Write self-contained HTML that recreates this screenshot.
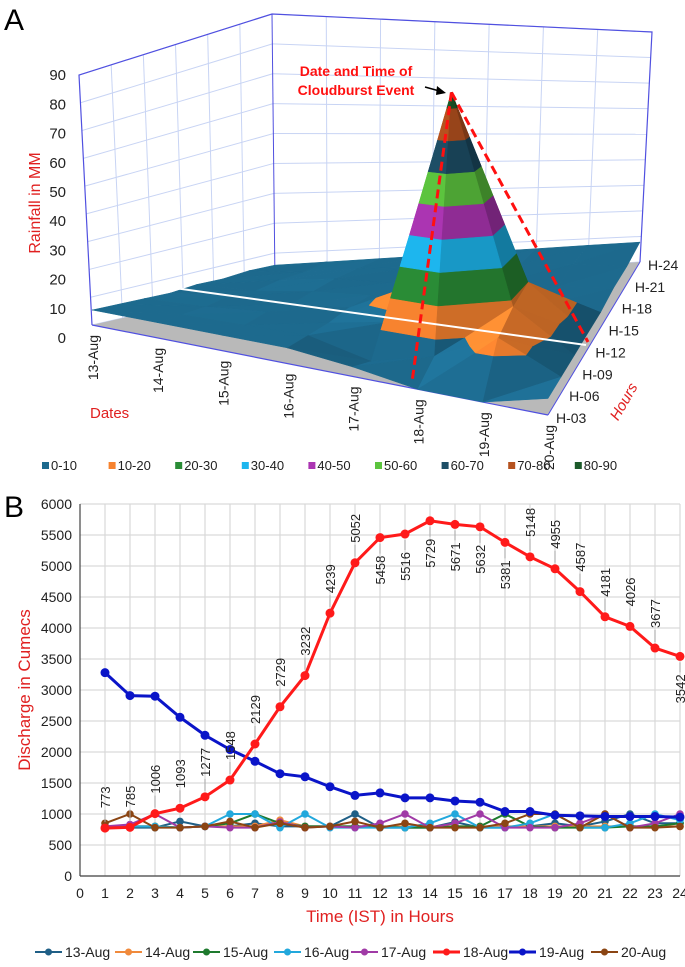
<!DOCTYPE html>
<html><head><meta charset="utf-8">
<style>
html,body{margin:0;padding:0;background:#fff;}
svg{display:block;font-family:"Liberation Sans",Arial,sans-serif;}
</style></head>
<body>
<svg id="svg" width="685" height="967" viewBox="0 0 685 967" xmlns="http://www.w3.org/2000/svg">
  <text x="4" y="30" font-size="30" fill="#000">A</text>
  <text x="4" y="517" font-size="30" fill="#000">B</text>
  <g id="chartA"></g>
  <g id="chartB"></g>
</svg>
<script>
const NS="http://www.w3.org/2000/svg";
function mk(parent,tag,attrs,text){const e=document.createElementNS(NS,tag);for(const k in attrs)e.setAttribute(k,attrs[k]);if(text!==undefined)e.textContent=text;parent.appendChild(e);return e;}

/* ================= PANEL A DATA ================= */
const dateCats=["13-Aug","14-Aug","15-Aug","16-Aug","17-Aug","18-Aug","19-Aug","20-Aug"];
const hourCats=["H-03","H-06","H-09","H-12","H-15","H-18","H-21","H-24"];
const rainRow0=[5,5,5,5,3,0,0,5];
const rainRow1=[5,5,5,5,0,5,14,5];
const rainRow2=[5,5,6,5,8,85,18,5];
const rainRow3=[5,6,5,6,15,22,20,5];
const rainRow4=[6,5,6,6,6,6,6,5];
const rainRow5=[6,6,7,6,6,7,6,6];
const rainRow6=[7,6,7,7,6,7,7,6];
const rainRow7=[7,7,7,7,7,7,7,7];
const rainTicks=[0,10,20,30,40,50,60,70,80,90];
const bandLabels=["0-10","10-20","20-30","30-40","40-50","50-60","60-70","70-80","80-90"];
const bandColors=["#1d6a8e","#f7832f","#2a8c36","#1db6ee","#ab35b2","#5cc43e","#1d4e66","#b5521f","#1c5a2a"];

/* ================= PANEL A DRAW ================= */
(function(){
 const g=document.getElementById("chartA");
 const rows=[rainRow0,rainRow1,rainRow2,rainRow3,rainRow4,rainRow5,rainRow6,rainRow7];
 const FL=[92,325],FR=[548,415],BL=[275,283],BR=[640,262];
 const nI=dateCats.length-1,nJ=hourCats.length-1;
 function proj(i,j,z){const u=i/nI,t=j/nJ;
   const fx=FL[0]+(FR[0]-FL[0])*u,fy=FL[1]+(FR[1]-FL[1])*u;
   const bx=BL[0]+(BR[0]-BL[0])*u,by=BL[1]+(BR[1]-BL[1])*u;
   const s=3.0+0.3*u-0.45*t;
   return [fx+(bx-fx)*t,fy+(by-fy)*t-z*s];}
 const wallBorder="#5050e0";
 mk(g,"polygon",{points:"79,75 272,14 275,283 92,325",fill:"#fff",stroke:"none",});
 mk(g,"polygon",{points:"272,14 652,32 640,262 275,283",fill:"#fff",stroke:"none",});
 const wg=mk(g,"g",{stroke:"#c8d4f4","stroke-width":"1",});
 rainTicks.forEach((v,k)=>{const f=v/90;
   const ly=325+(75-325)*f, lx=92+(79-92)*f, ry=283+(14-283)*f, rx=275+(272-275)*f;
   mk(wg,"line",{x1:lx,y1:ly,x2:rx,y2:ry});
   const by2=262+(32-262)*f, bx2=640+(652-640)*f;
   mk(wg,"line",{x1:rx,y1:ry,x2:bx2,y2:by2});});
 for(let k=1;k<6;k++){const f=k/6;mk(wg,"line",{x1:92+(275-92)*f,y1:325+(283-325)*f,x2:79+(272-79)*f,y2:75+(14-75)*f});}
 for(let k=1;k<7;k++){const f=k/7;mk(wg,"line",{x1:275+(640-275)*f,y1:283+(262-283)*f,x2:272+(652-272)*f,y2:14+(32-14)*f});}
 mk(g,"polyline",{points:"92,325 79,75 272,14 652,32 640,262",fill:"none",stroke:wallBorder,"stroke-width":"1.2",});
 mk(g,"line",{x1:272,y1:14,x2:275,y2:283,stroke:wallBorder,"stroke-width":"1",});
 mk(g,"polygon",{points:"92,325 548,415 640,262 275,283",fill:"#b9b9b9",stroke:"none",});
 mk(g,"line",{x1:92,y1:325,x2:548,y2:415,stroke:wallBorder,"stroke-width":"1.2",});
 function clip(poly,z0,keepAbove){const out=[];for(let k=0;k<poly.length;k++){const a=poly[k],b=poly[(k+1)%poly.length];
   const ina=keepAbove?a[2]>=z0:a[2]<=z0,inb=keepAbove?b[2]>=z0:b[2]<=z0;
   if(ina)out.push(a);
   if(ina!==inb){const t=(z0-a[2])/(b[2]-a[2]);out.push([a[0]+(b[0]-a[0])*t,a[1]+(b[1]-a[1])*t,z0]);}}
   return out;}
 function shade(hex,f){const n=parseInt(hex.slice(1),16);let r=(n>>16)&255,gg=(n>>8)&255,b=n&255;
   r=Math.min(255,Math.round(r*f));gg=Math.min(255,Math.round(gg*f));b=Math.min(255,Math.round(b*f));return "rgb("+r+","+gg+","+b+")";}
 const tris=[];
 for(let j=0;j<nJ;j++)for(let i=0;i<nI;i++){
   const p00=[i,j,rows[j][i]],p10=[i+1,j,rows[j][i+1]],p01=[i,j+1,rows[j+1][i]],p11=[i+1,j+1,rows[j+1][i+1]];
   tris.push([p00,p10,p11]);tris.push([p00,p11,p01]);}
 tris.forEach(tr=>{const c=proj((tr[0][0]+tr[1][0]+tr[2][0])/3,(tr[0][1]+tr[1][1]+tr[2][1])/3,0);tr.depth=c[1];});
 tris.sort((a,b)=>a.depth-b.depth);
 const sg=mk(g,"g",{});
 tris.forEach(tr=>{
   if(tr.every(p=>p[2]===0))return;
   const a=tr[0],b=tr[1],c=tr[2],sc=0.12;
   const ux=b[0]-a[0],uy=b[1]-a[1],uz=(b[2]-a[2])*sc,vx=c[0]-a[0],vy=c[1]-a[1],vz=(c[2]-a[2])*sc;
   let nx=uy*vz-uz*vy,ny=uz*vx-ux*vz,nz=ux*vy-uy*vx;const L=Math.hypot(nx,ny,nz)||1;nx/=L;ny/=L;nz/=L;if(nz<0){nx=-nx;ny=-ny;nz=-nz;}
   const f=0.82+0.3*(-0.6*nx-0.5*ny+0.6*nz);
   bandColors.forEach((col,k)=>{
     let poly=clip(tr,k*10,true);if(poly.length<3)return;
     if(k<bandColors.length-1){poly=clip(poly,(k+1)*10,false);if(poly.length<3)return;}
     const pts=poly.map(p=>proj(p[0],p[1],p[2]).map(v=>v.toFixed(1)).join(",")).join(" ");
     const el=mk(sg,"polygon",{points:pts,fill:shade(col,f),stroke:shade(col,f),"stroke-width":"0.5"});
     
     
   });
 });
 mk(g,"line",{x1:160,y1:286,x2:586,y2:345,stroke:"#fff","stroke-width":"2",});
 mk(g,"line",{x1:548,y1:415,x2:640,y2:262,stroke:wallBorder,"stroke-width":"1",});
 rainTicks.forEach((v,k)=>{const y=338-k*29.2;
   const t=mk(g,"text",{x:66,y:y+5,"font-size":"15","text-anchor":"end",fill:"#222"},String(v));
   });
 mk(g,"text",{x:0,y:0,"font-size":"16",fill:"#e02020","text-anchor":"middle",transform:"translate(40,203) rotate(-90)",},"Rainfall in MM");
 dateCats.forEach((d,i)=>{const p=proj(i,0,0);
   const t=mk(g,"text",{x:0,y:0,"font-size":"14","text-anchor":"end",fill:"#222",transform:"translate("+(p[0]+6)+","+(p[1]+10)+") rotate(-90)"},d);
   });
 mk(g,"text",{x:90,y:418,"font-size":"15",fill:"#e02020",},"Dates");
 hourCats.forEach((h,j)=>{const p=proj(nI,j,0);
   const t=mk(g,"text",{x:p[0]+8,y:p[1]+8,"font-size":"14",fill:"#222"},h);
   });
 mk(g,"text",{x:0,y:0,"font-size":"15",fill:"#e02020","font-style":"italic","text-anchor":"middle",transform:"translate(628,404) rotate(-60)",},"Hours");
 const peak=proj(5,2,85);
 mk(g,"line",{x1:peak[0],y1:peak[1],x2:412,y2:382,stroke:"#ff1010","stroke-width":"3","stroke-dasharray":"9,5",});
 mk(g,"line",{x1:peak[0],y1:peak[1],x2:588,y2:342,stroke:"#ff1010","stroke-width":"3","stroke-dasharray":"9,5",});
 mk(g,"text",{x:356,y:76,"font-size":"14","font-weight":"bold",fill:"#ff1010","text-anchor":"middle",},"Date and Time of");
 mk(g,"text",{x:356,y:95,"font-size":"14","font-weight":"bold",fill:"#ff1010","text-anchor":"middle",},"Cloudburst Event");
 mk(g,"line",{x1:425,y1:87,x2:443,y2:92,stroke:"#000","stroke-width":"1.5",});
 mk(g,"polygon",{points:"446,93 437,86 436,95",fill:"#000",});
 bandLabels.forEach((l,k)=>{const x=42+k*66.6;
   const it=mk(g,"g",{});
   mk(it,"rect",{x:x,y:462,width:7,height:7,fill:bandColors[k]});
   mk(it,"text",{x:x+9,y:470,"font-size":"13",fill:"#222"},l);});
})();

/* ================= PANEL B DATA ================= */
const hours=[1,2,3,4,5,6,7,8,9,10,11,12,13,14,15,16,17,18,19,20,21,22,23,24];
const xTicks=[0,1,2,3,4,5,6,7,8,9,10,11,12,13,14,15,16,17,18,19,20,21,22,23,24];
const yTicks=[0,500,1000,1500,2000,2500,3000,3500,4000,4500,5000,5500,6000];
const seriesNames=["13-Aug","14-Aug","15-Aug","16-Aug","17-Aug","20-Aug","19-Aug","18-Aug"];
const seriesColors=["#1f5f86","#f08a3c","#1e7a2e","#22a8dc","#a03aa6","#8b4513","#0a14c8","#ff1a1a"];
const aug13=[780,780,780,880,800,800,850,800,800,800,1000,780,780,780,870,780,780,800,850,800,880,1000,850,850];
const aug14=[780,800,800,780,800,800,800,900,800,800,800,800,800,800,800,800,800,800,800,800,800,800,800,800];
const aug15=[800,800,800,780,800,850,1000,850,800,800,800,800,780,780,800,800,1000,800,780,780,780,800,800,850];
const aug16=[800,800,800,780,800,1000,1000,780,1000,780,780,780,780,850,1000,780,780,850,1000,780,780,850,1000,900];
const aug17=[800,830,1000,780,800,780,780,870,780,800,780,850,1000,780,850,1000,780,780,780,850,1000,780,850,1000];
const aug20=[850,1000,780,780,800,880,780,850,780,800,880,780,850,780,780,780,850,1000,1000,780,1000,780,780,800];
const aug19=[3280,2910,2900,2560,2270,2040,1850,1650,1600,1440,1300,1340,1260,1260,1210,1190,1040,1040,980,970,960,960,960,950];
const aug18=[773,785,1006,1093,1277,1548,2129,2729,3232,4239,5052,5458,5516,5729,5671,5632,5381,5148,4955,4587,4181,4026,3677,3542];
const aug18LabelBelow=[0,0,0,0,0,0,0,0,0,0,0,1,1,1,1,1,1,0,0,0,0,0,0,1];

/* ================= PANEL B DRAW ================= */
(function(){
 const g=document.getElementById("chartB");
 const X=h=>80+h*25, Y=v=>876-v*(372/6000);
 const gridG=mk(g,"g",{stroke:"#d9d9d9","stroke-width":"1.2",});
 yTicks.forEach(v=>{mk(gridG,"line",{x1:X(0),x2:X(24),y1:Y(v),y2:Y(v)});});
 xTicks.forEach(h=>{if(h>0)mk(gridG,"line",{x1:X(h),x2:X(h),y1:Y(0),y2:Y(6000)});});
 mk(g,"line",{x1:X(0),y1:Y(6000),x2:X(0),y2:Y(0),stroke:"#444","stroke-width":"1.2",});
 mk(g,"line",{x1:X(0),y1:Y(0),x2:X(24),y2:Y(0),stroke:"#444","stroke-width":"1.2",});
 yTicks.forEach(v=>{const t=mk(g,"text",{x:72,y:Y(v)+5,"font-size":"14","text-anchor":"end",fill:"#222"},String(v));
   });
 xTicks.forEach(h=>{const t=mk(g,"text",{x:X(h),y:898,"font-size":"14","text-anchor":"middle",fill:"#222"},String(h));
   });
 mk(g,"text",{x:380,y:922,"font-size":"17",fill:"#e02020","text-anchor":"middle",},"Time (IST) in Hours");
 mk(g,"text",{x:0,y:0,"font-size":"17",fill:"#e02020","text-anchor":"middle",transform:"translate(30,690) rotate(-90)",},"Discharge in Cumecs");
 const all=[aug13,aug14,aug15,aug16,aug17,aug20,aug19,aug18];
 all.forEach((vals,k)=>{
   const big=k>=6;
   const sg=mk(g,"g",{});
   
   
   mk(sg,"polyline",{points:vals.map((v,i)=>X(hours[i])+","+Y(v)).join(" "),fill:"none",stroke:seriesColors[k],"stroke-width":big?3:2});
   vals.forEach((v,i)=>{const c=mk(sg,"circle",{cx:X(hours[i]),cy:Y(v),r:big?4.5:3.8,fill:seriesColors[k]});
     });
 });
 const lg=mk(g,"g",{});
 aug18.forEach((v,i)=>{const x=X(hours[i]),y=Y(v);
   let t;
   if(aug18LabelBelow[i]){
     mk(lg,"line",{x1:x,y1:y+6,x2:x,y2:y+16,stroke:"#aaa","stroke-width":"1"});
     t=mk(lg,"text",{x:0,y:0,"font-size":"13","text-anchor":"end",fill:"#222",transform:"translate("+(x+5)+","+(y+18)+") rotate(-90)"},String(v));
   } else {
     mk(lg,"line",{x1:x,y1:y-6,x2:x,y2:y-18,stroke:"#aaa","stroke-width":"1"});
     t=mk(lg,"text",{x:0,y:0,"font-size":"13","text-anchor":"start",fill:"#222",transform:"translate("+(x+5)+","+(y-20)+") rotate(-90)"},String(v));
   }
   
 });
 const order=[0,1,2,3,4,7,6,5];
 const lx=[35,115,193,274,351,433,509,591];
 order.forEach((k,n)=>{const x=lx[n],y=952;
   const it=mk(g,"g",{});
   mk(it,"line",{x1:x,y1:y,x2:x+27,y2:y,stroke:seriesColors[k],"stroke-width":(k>=6)?3:2});
   mk(it,"circle",{cx:x+13.5,cy:y,r:3.5,fill:seriesColors[k]});
   mk(it,"text",{x:x+30,y:y+5,"font-size":"14",fill:"#222"},seriesNames[k]);});
})();
</script>
</body></html>
